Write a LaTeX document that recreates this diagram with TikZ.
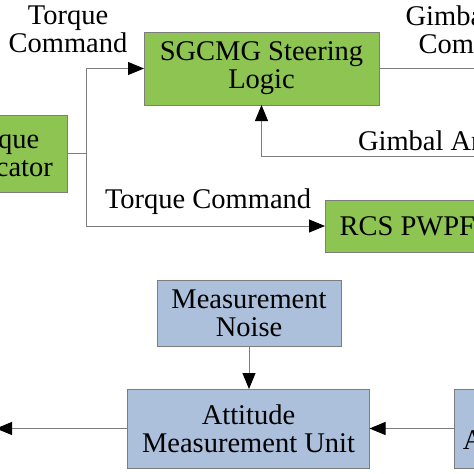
\documentclass[tikz,border=0pt]{standalone}
\usepackage{fontspec}
\setmainfont{Liberation Serif}
\usetikzlibrary{positioning,arrows.meta}
\definecolor{blockgreen}{RGB}{141,196,82}
\definecolor{blockblue}{RGB}{172,192,219}
\definecolor{edgegray}{RGB}{125,125,125}

\begin{document}
\begin{tikzpicture}[
    x=1pt, y=-1pt,
    outer sep=0pt,
    every node/.style={font=\fontsize{28.5}{28}\selectfont},
    block/.style={draw=edgegray, line width=1pt, rectangle, align=center, inner sep=0pt},
    ctrl/.style={block, fill=blockgreen},
    sense/.style={block, fill=blockblue},
    lbl/.style={inner sep=0pt, align=center},
    link/.style={draw=edgegray, line width=1pt},
    flow/.style={link, -{Triangle[length=16pt, width=13pt, black]}}
]
    \useasboundingbox (0,0) rectangle (474,474);
    \clip (0,0) rectangle (474,474);

    % control blocks
    \node [ctrl, minimum width=235, minimum height=73] (steer) at (261.5,68.5) {SGCMG Steering\\Logic};
    \node [ctrl, minimum width=136, minimum height=77] (alloc) at (-1,153.5) {Torque\\Allocator};
    \node [ctrl, minimum width=292, minimum height=52, anchor=west] (rcs) at (325,226) {RCS PWPF Modulator};

    % measurement blocks
    \node [sense, minimum width=184, minimum height=66] (noise) at (249,313) {Measurement\\Noise};
    \node [sense, minimum width=242, minimum height=79] (amu) at (248.5,428.5) {Attitude\\Measurement Unit};
    \node [sense, minimum width=234, minimum height=79, anchor=west] (dyn) at (454,428.5) {Spacecraft\\Attitude Dynamics};

    % connector ends
    \coordinate (split) at (86,153.5);
    \coordinate (gimcmd) at (480,68.5);
    \coordinate (gimang) at (480,156);
    \coordinate (attout) at (-4,428.5);

    \draw [link] (alloc.east) -- (split);
    \draw [flow] (split) |- (steer.west);
    \draw [flow] (split) |- (rcs.west);
    \draw [link] (steer.east) -- (gimcmd);
    \draw [flow] (gimang) -| (steer.south);
    \draw [flow] (noise.south) -- (noise.south |- amu.north);
    \draw [flow] (dyn.west) -- (amu.east);
    \draw [flow] (amu.west) -- (attout);

    % signal labels
    \node [lbl] (tqlbl) at (68,29.5) {Torque\\Command};
    \node [lbl] (gclbl) at (478,29.5) {Gimbal Rate\\Command};
    \node [lbl, anchor=base west] (galbl) at (358,150) {Gimbal Angle};
    \node [lbl, anchor=base west] (tclbl) at (105,208) {Torque Command};
\end{tikzpicture}
\end{document}
